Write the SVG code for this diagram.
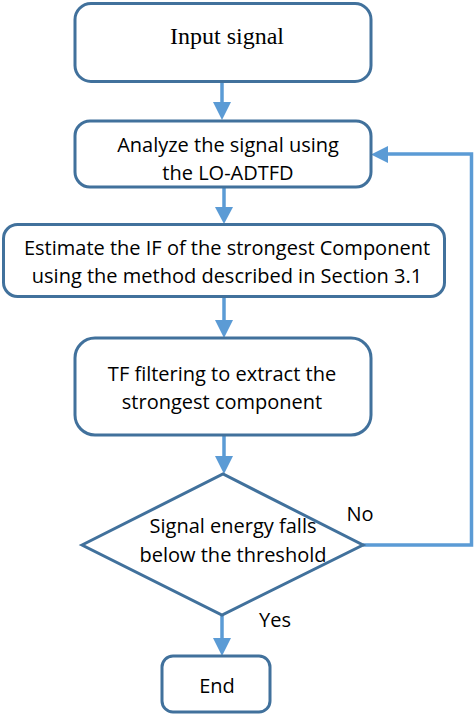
<svg xmlns="http://www.w3.org/2000/svg" width="474" height="714" viewBox="0 0 474 714">
<style>
.box{fill:#fff;stroke:#41719C;stroke-width:3}
.ln{fill:none;stroke:#5B9BD5;stroke-width:3.5}
.ah{fill:#5B9BD5}
.t{font-family:"Open Sans","Liberation Sans",Arial,sans-serif;font-size:20px;fill:#000;text-anchor:middle}
.s{font-family:"Liberation Serif","Times New Roman",serif;font-size:24px;fill:#000;text-anchor:middle}
</style>
<rect width="474" height="714" fill="#fff"/>
<g id="connectors">
<line class="ln" x1="222" y1="82" x2="222" y2="104"/>
<polygon class="ah" points="213,102 231,102 222,120"/>
<line class="ln" x1="224" y1="187" x2="224" y2="209"/>
<polygon class="ah" points="215,207 233,207 224,224"/>
<line class="ln" x1="224" y1="297" x2="224" y2="322"/>
<polygon class="ah" points="215,320 233,320 224,338"/>
<line class="ln" x1="224" y1="435" x2="224" y2="458"/>
<polygon class="ah" points="215,456 233,456 224,474"/>
<polyline class="ln" points="363,545 471.5,545 471.5,154 386,154"/>
<polygon class="ah" points="388,146 388,163 371,154.5"/>
<line class="ln" x1="222" y1="615" x2="222" y2="640"/>
<polygon class="ah" points="213,638 231,638 222,656"/>
<text class="t" x="360" y="521">No</text>
<text class="t" x="275" y="627">Yes</text>
</g>
<g id="input">
<rect class="box" x="75" y="3.5" width="296" height="78" rx="16"/>
<text class="s" x="227" y="44">Input signal</text>
</g>
<g id="analyze">
<rect class="box" x="75" y="121" width="296" height="66" rx="15"/>
<text class="t" x="228" y="152">Analyze the signal using</text>
<text class="t" x="228" y="180">the LO-ADTFD</text>
</g>
<g id="estimate">
<rect class="box" x="3.5" y="224.5" width="441" height="72" rx="14"/>
<text class="t" x="227" y="255">Estimate the IF of the strongest Component</text>
<text class="t" x="227" y="283">using the method described in Section 3.1</text>
</g>
<g id="filter">
<rect class="box" x="75" y="338" width="296" height="97" rx="20"/>
<text class="t" x="222" y="381">TF filtering to extract the</text>
<text class="t" x="222" y="409">strongest component</text>
</g>
<g id="decision">
<polygon class="box" points="82,545 223,474 363,545 222,615"/>
<text class="t" x="233" y="533">Signal energy falls</text>
<text class="t" x="233" y="562">below the threshold</text>
</g>
<g id="end">
<rect class="box" x="162" y="656" width="108" height="56" rx="11"/>
<text class="t" x="217" y="693">End</text>
</g>
</svg>
